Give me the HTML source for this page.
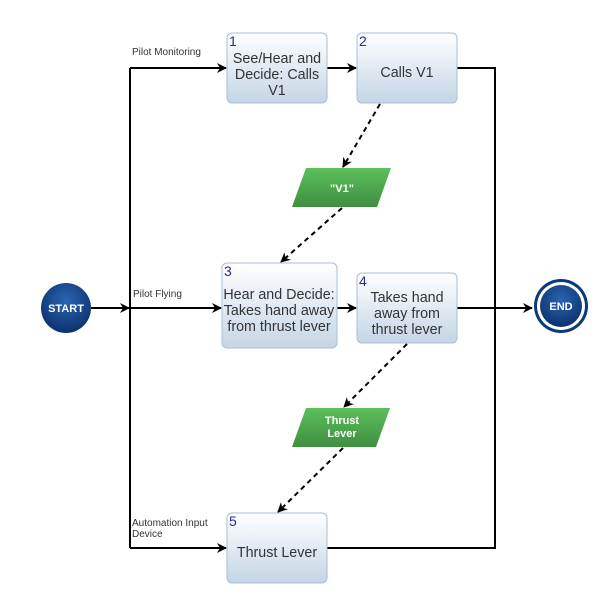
<!DOCTYPE html>
<html><head><meta charset="utf-8"><style>
html,body{margin:0;padding:0;background:#fff;}
svg{display:block;font-family:"Liberation Sans",sans-serif;}
.t{font-size:14.3px;fill:#333;text-anchor:middle;}
.n{font-size:14px;fill:#2a2a8a;}
.l{font-size:10px;fill:#333;}
</style></head><body>
<svg width="612" height="606" viewBox="0 0 612 606">
<defs>
<linearGradient id="bx" x1="0" y1="0" x2="0" y2="1"><stop offset="0" stop-color="#ffffff"/><stop offset="1" stop-color="#c5d5e6"/></linearGradient>
<linearGradient id="gr" x1="0" y1="0" x2="0" y2="1"><stop offset="0" stop-color="#5cbf5c"/><stop offset="1" stop-color="#3f8f3f"/></linearGradient>
<radialGradient id="bl" cx="0.5" cy="0.35" r="0.7"><stop offset="0" stop-color="#2a64b0"/><stop offset="1" stop-color="#0a2e6a"/></radialGradient>
<marker id="a" markerWidth="10" markerHeight="10" refX="9" refY="5" orient="auto" markerUnits="userSpaceOnUse"><path d="M0,0 L10,5 L0,10 L3,5 Z" fill="#000"/></marker>
</defs>
<g stroke="#000" stroke-width="2" fill="none">
<path d="M91,308 L129,308" marker-end="url(#a)"/>
<path d="M130,68 L130,548"/>
<path d="M130,68 L226,68" marker-end="url(#a)"/>
<path d="M130,308 L221,308" marker-end="url(#a)"/>
<path d="M130,548 L226,548" marker-end="url(#a)"/>
<path d="M327,68 L356,68" marker-end="url(#a)"/>
<path d="M337,308 L356,308" marker-end="url(#a)"/>
<path d="M457,68 L495,68 L495,548 L327,548"/>
<path d="M457,308 L532,308" marker-end="url(#a)"/>
<g stroke-dasharray="5,4">
<path d="M380,104 L343,167" marker-end="url(#a)"/>
<path d="M342,208 L281,262" marker-end="url(#a)"/>
<path d="M407,344 L344,407" marker-end="url(#a)"/>
<path d="M343,448 L278,512" marker-end="url(#a)"/>
</g>
</g>
<g fill="url(#bx)" stroke="#a9bed6" stroke-width="1">
<rect x="227" y="33" width="100" height="70" rx="5"/>
<rect x="357" y="33" width="100" height="70" rx="5"/>
<rect x="222" y="263" width="115" height="85" rx="5"/>
<rect x="357" y="273" width="100" height="70" rx="5"/>
<rect x="227" y="513" width="100" height="70" rx="5"/>
</g>
<path d="M306,168 L391,168 L377,207 L292,207 Z" fill="url(#gr)"/>
<path d="M306,408 L390,408 L376,447 L292,447 Z" fill="url(#gr)"/>
<circle cx="66" cy="308" r="25" fill="url(#bl)"/>
<circle cx="561" cy="306" r="27" fill="#0a3a7a"/>
<circle cx="561" cy="306" r="24" fill="#fff"/>
<circle cx="561" cy="306" r="21" fill="url(#bl)"/>
<text x="66" y="312" font-size="11" font-weight="bold" fill="#fff" text-anchor="middle">START</text>
<text x="561" y="310" font-size="11" font-weight="bold" fill="#fff" text-anchor="middle">END</text>
<text x="342" y="192" font-size="11" font-weight="bold" fill="#fff" text-anchor="middle">"V1"</text>
<text x="342" y="424" font-size="11" font-weight="bold" fill="#fff" text-anchor="middle">Thrust</text>
<text x="342" y="437" font-size="11" font-weight="bold" fill="#fff" text-anchor="middle">Lever</text>
<text class="n" x="229" y="46">1</text>
<text class="n" x="359" y="46">2</text>
<text class="n" x="224" y="276">3</text>
<text class="n" x="359" y="286">4</text>
<text class="n" x="229" y="526">5</text>
<text class="t" x="277" y="63">See/Hear and</text>
<text class="t" x="277" y="79">Decide: Calls</text>
<text class="t" x="277" y="95">V1</text>
<text class="t" x="407" y="77">Calls V1</text>
<text class="t" x="279" y="299">Hear and Decide:</text>
<text class="t" x="279" y="315">Takes hand away</text>
<text class="t" x="279" y="331">from thrust lever</text>
<text class="t" x="407" y="302">Takes hand</text>
<text class="t" x="407" y="318">away from</text>
<text class="t" x="407" y="334">thrust lever</text>
<text class="t" x="277" y="557">Thrust Lever</text>
<text class="l" x="132" y="55">Pilot Monitoring</text>
<text class="l" x="133" y="297">Pilot Flying</text>
<text class="l" x="132" y="526">Automation Input</text>
<text class="l" x="132" y="537">Device</text>
</svg>
</body></html>
